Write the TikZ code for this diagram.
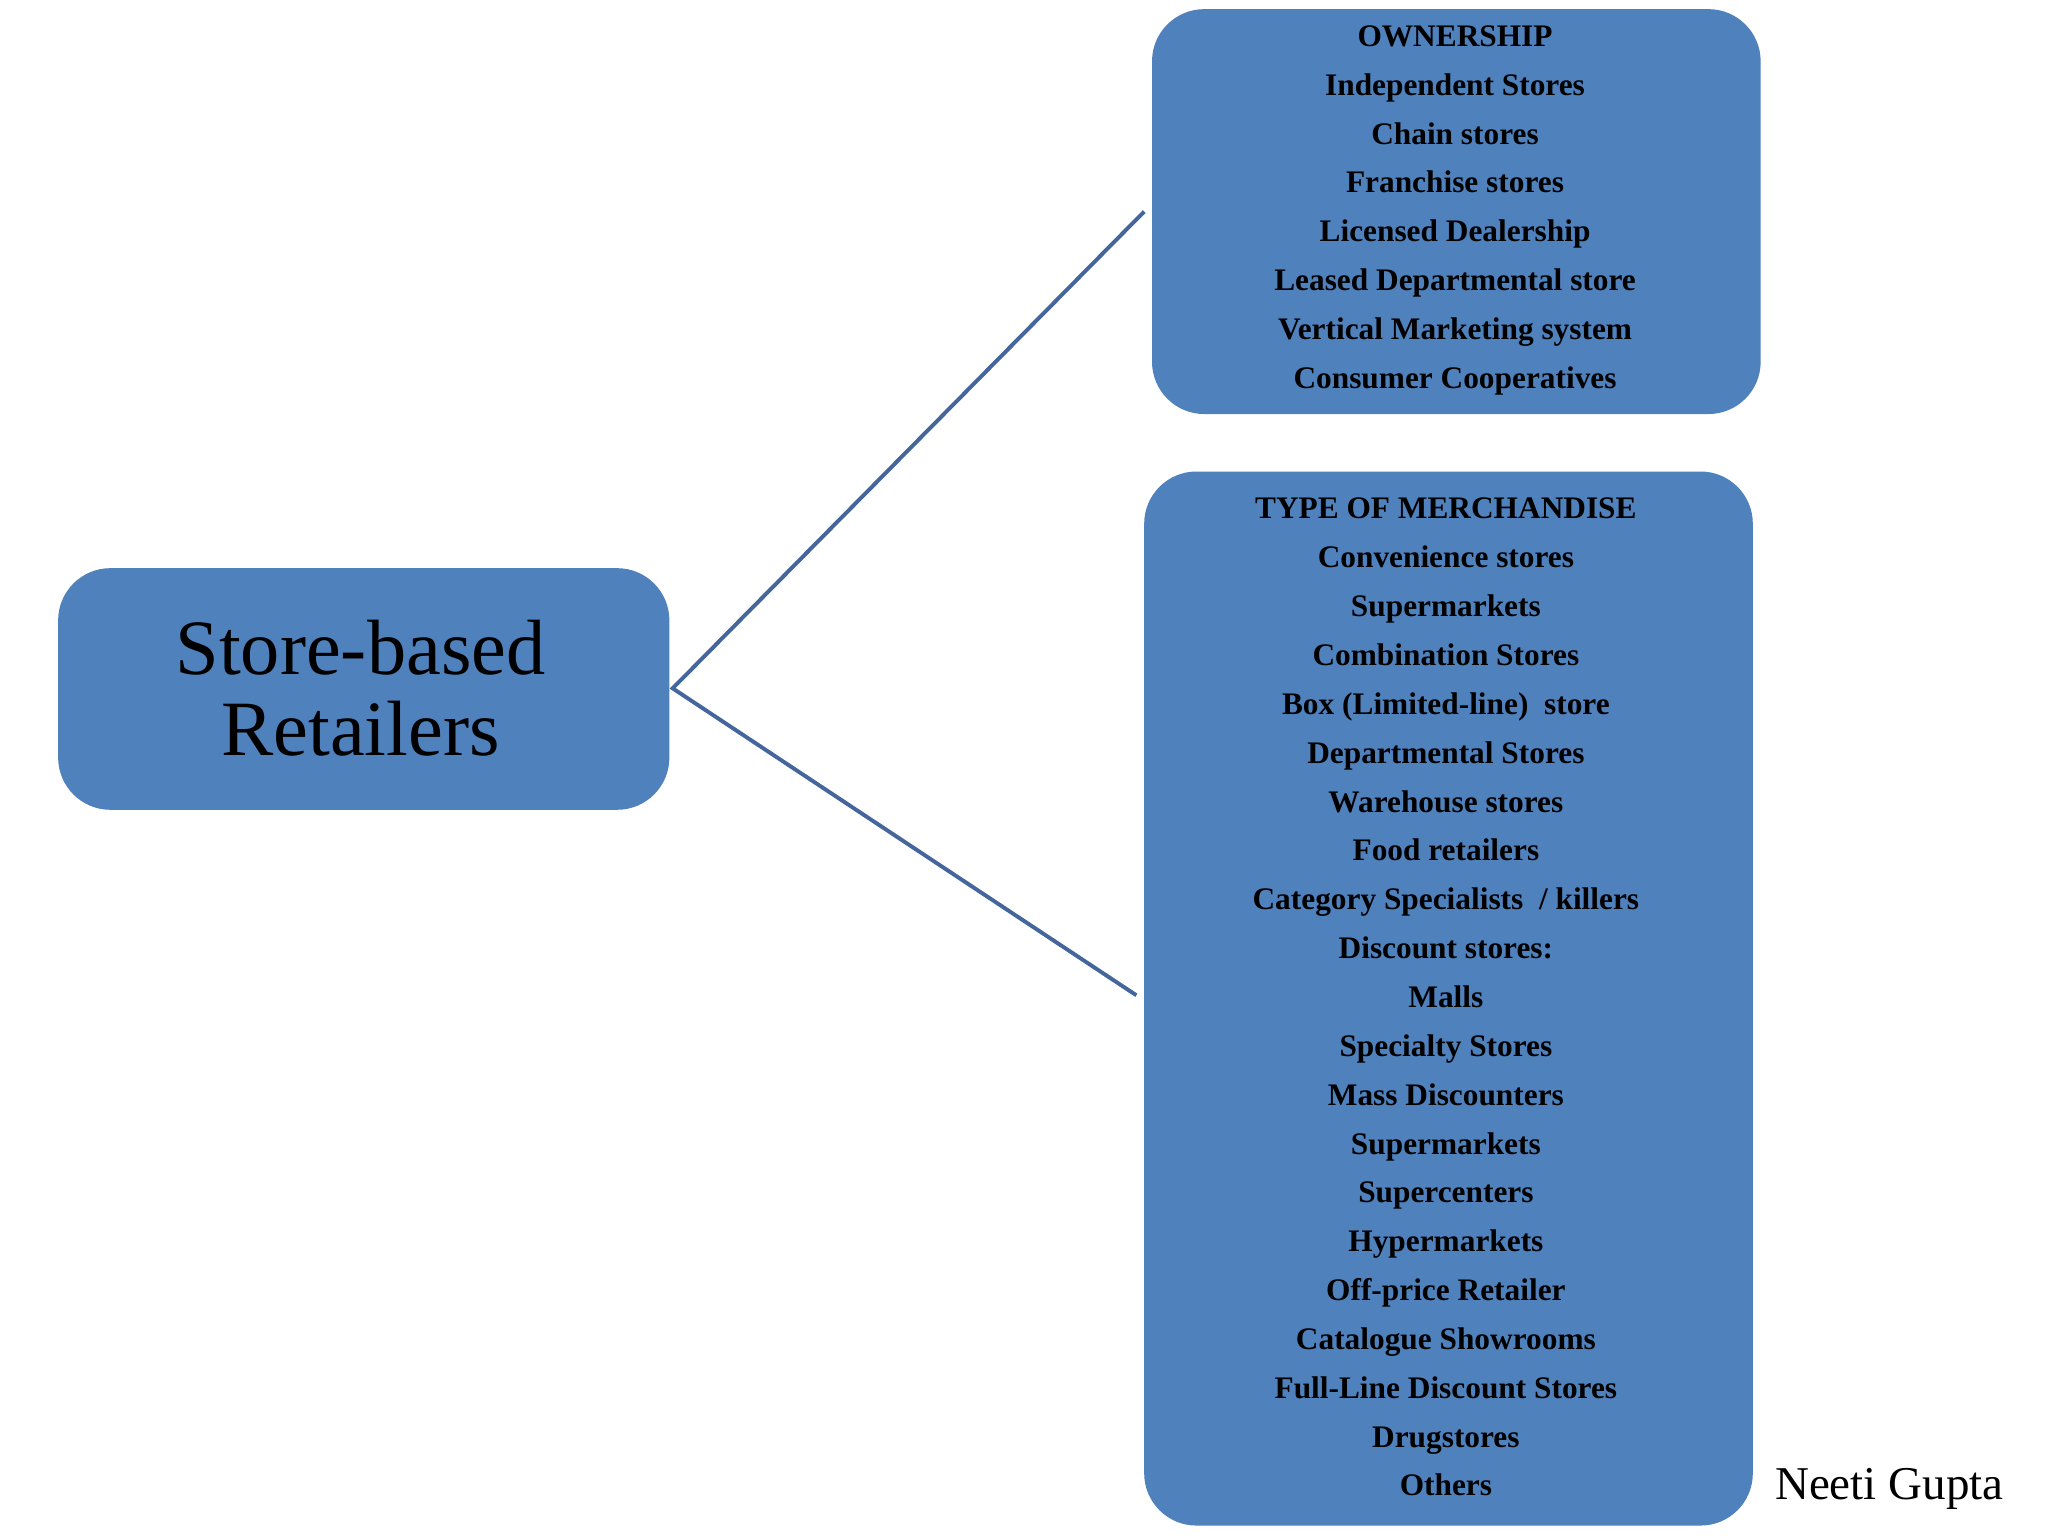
\documentclass[tikz,border=0pt]{standalone}
\usepackage{fontspec}
\setmainfont{Liberation Serif}
\begin{document}
\begin{tikzpicture}[x=0.5pt,y=-0.5pt,
  box/.style={draw=none,fill=boxblue,rounded corners=20pt,inner sep=0pt},
  lst/.style={font=\bfseries\fontsize{12}{18.7}\selectfont,align=center},
  conn/.style={draw=lineblue,line width=1.5pt}]
\definecolor{boxblue}{HTML}{4F81BD}
\definecolor{lineblue}{HTML}{44669C}
\useasboundingbox (0,0) rectangle (1568,1176);
\fill[white] (0,0) rectangle (1568,1176);
\node[box,minimum width=234pt,minimum height=92.5pt] (root) at (278.5,527.5) {};
\node[font=\fontsize{30}{31}\selectfont,align=center] (roott) at (276,527) {Store-based\\Retailers};
\node[box,minimum width=233pt,minimum height=155pt] (own) at (1115,162) {};
\node[lst] (ownt) at (1114,161) {OWNERSHIP\\Independent Stores\\Chain stores\\Franchise stores\\Licensed Dealership\\Leased Departmental store\\Vertical Marketing system\\Consumer Cooperatives};
\node[box,minimum width=233pt,minimum height=403.5pt] (mer) at (1109,764.5) {};
\node[lst] (mert) at (1107,763.5) {TYPE OF MERCHANDISE\\Convenience stores\\Supermarkets\\Combination Stores\\Box (Limited-line)\ \ store\\Departmental Stores\\Warehouse stores\\Food retailers\\Category Specialists\ \ / killers\\Discount stores:\\Malls\\Specialty Stores\\Mass Discounters\\Supermarkets\\Supercenters\\Hypermarkets\\Off-price Retailer\\Catalogue Showrooms\\Full-Line Discount Stores\\Drugstores\\Others};
\coordinate (p) at (515,527);
\coordinate (q1) at (876,162);
\coordinate (q2) at (870,762);
\draw[conn] (q1) -- (p) -- (q2);
\node[font=\fontsize{18}{20}\selectfont,anchor=west] (auth) at (1352,1140) {Neeti Gupta};
\end{tikzpicture}
\end{document}
